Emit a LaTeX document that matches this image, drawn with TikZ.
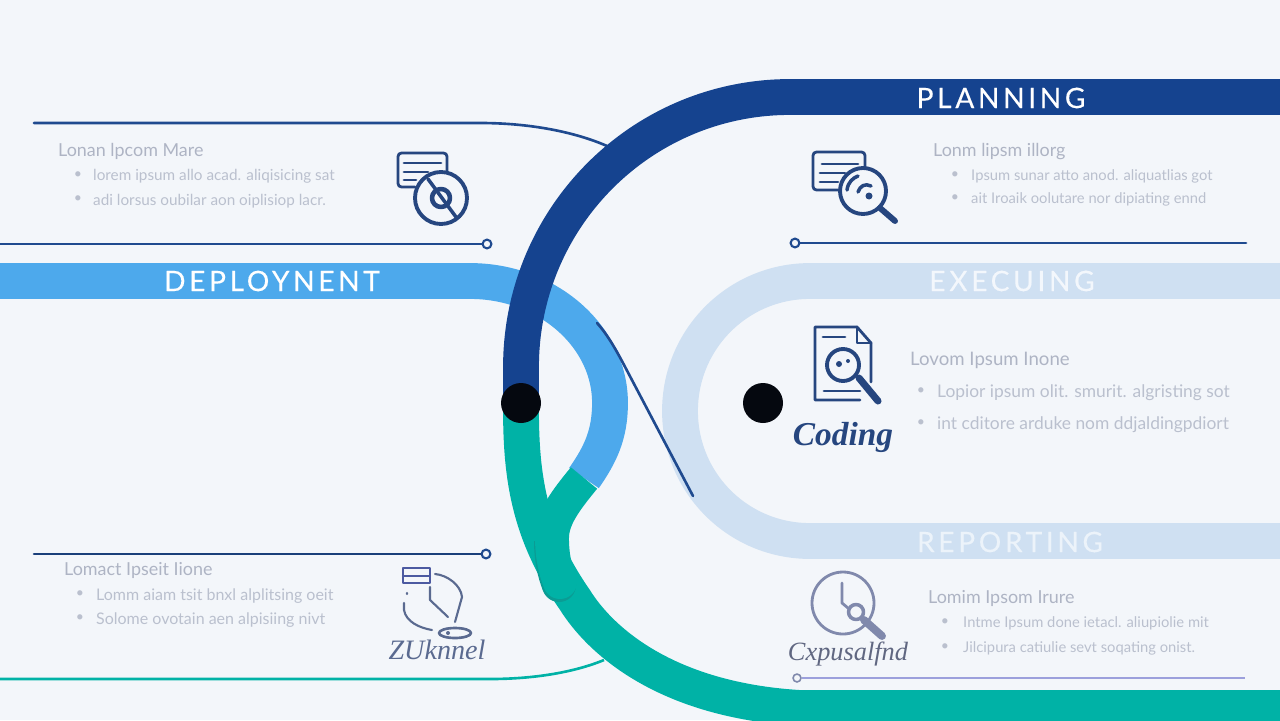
\documentclass[tikz,border=0pt]{standalone}
\usepackage{fontspec}
\setmainfont{Lato}
\newfontfamily\titlefont[LetterSpace=13,FakeBold=0.3]{Lato}
\newfontfamily\handfont{Liberation Serif}
\usepackage{xcolor}
\definecolor{paper}{HTML}{F3F6FA}
\definecolor{navy}{HTML}{15438F}
\definecolor{sky}{HTML}{4DA9EC}
\definecolor{teal1}{HTML}{00B2A6}
\definecolor{teal2}{HTML}{0A9C94}
\definecolor{pale}{HTML}{CFE0F2}
\definecolor{rule}{HTML}{1F4A8F}
\definecolor{inkA}{HTML}{26467F}
\definecolor{inkB}{HTML}{5A6A90}
\definecolor{inkC}{HTML}{8089AC}
\definecolor{greyhead}{HTML}{AEB4C4}
\definecolor{greytext}{HTML}{BAC0CE}
\definecolor{dotblack}{HTML}{05080F}
\tikzset{>=latex}

\begin{document}
\begin{tikzpicture}[x=0.02cm,y=-0.02cm,
  band/.style={line width=20.4pt},
  thinline/.style={line width=1.5pt,rule,line cap=round},
  ringend/.style={circle,draw=rule,fill=paper,line width=1.2pt,minimum size=5pt,inner sep=0pt},
  title/.style={font=\titlefont\fontsize{16}{18}\selectfont,white},
  head/.style={anchor=west,yshift=-1pt,text=greyhead,font=\fontsize{10.2}{12}\selectfont},
  item/.style={anchor=west,yshift=-1pt,text=greytext,font=\fontsize{8.7}{10}\selectfont},
  bull/.style={text=greytext,font=\fontsize{8}{10}\selectfont,inner sep=0pt},
  iconA/.style={draw=inkA,line width=1.6pt,line cap=round,line join=round},
  iconB/.style={draw=inkB,line width=1.2pt,line cap=round,line join=round},
  iconC/.style={draw=inkC,line width=1.6pt,line cap=round,line join=round},
  hand/.style={font=\handfont\itshape\bfseries\fontsize{19}{22}\selectfont}]
\useasboundingbox (0,0) rectangle (1280,720);
\clip (0,0) rectangle (1280,720);
\fill[paper] (0,0) rectangle (1280,720);

% thin rules
\coordinate (topLeftA) at (34,123);
\coordinate (topLeftB) at (607,146);
\draw[thinline] (topLeftA) -- (480,123) .. controls (530,123) and (575,132) .. (topLeftB);
\coordinate (deployA) at (0,244);
\node[ringend] (deployB) at (487,244) {};
\draw[thinline] (deployA) -- (deployB);
\node[ringend] (planA) at (795,243) {};
\coordinate (planB) at (1246,243);
\draw[thinline] (planA) -- (planB);
\coordinate (lowLeftA) at (34,554);
\node[ringend] (lowLeftB) at (486,554) {};
\draw[thinline,draw=rule!85!black] (lowLeftA) -- (lowLeftB);
\coordinate (tealA) at (0,679);
\coordinate (tealB) at (604,660);
\draw[line width=1.5pt,teal1] (tealA) -- (490,679) .. controls (535,679) and (575,672) .. (tealB);
\node[ringend,draw=inkC,minimum size=4.5pt,line width=.9pt] (lowRightA) at (797,678) {};
\coordinate (lowRightB) at (1245,678);
\draw[line width=1.3pt,color=inkC!70!blue!60!white] (lowRightA) -- (lowRightB);

% bands
\draw[band,pale] (1280,281) -- (810,281) .. controls (738,281) and (680,339) .. (680,411)
  .. controls (680,483) and (738,541) .. (810,541) -- (1280,541);
\draw[band,sky] (0,281) -- (470,281) .. controls (547,281) and (610,336) .. (610,403)
  .. controls (610,435) and (600,455) .. (584,478);
\coordinate (slashA) at (597,323);
\coordinate (slashB) at (693,496);
\draw[line width=1.5pt,rule,line cap=round] (slashA) .. controls (607,334) and (615,348) .. (623,363) -- (slashB);
\draw[band,navy] (521,403) -- (521,367) .. controls (521,218) and (641,97) .. (790,97) -- (1280,97);
\draw[band,teal1] (521,410) .. controls (521,480) and (530,535) .. (575,600)
  .. controls (600,640) and (665,700) .. (800,708) -- (1280,708);
% branch, with its shadow
\begin{scope}[shift={(-1,3)}]
\draw[line width=19.3pt,teal2] (552,538) .. controls (552,555) and (555,570) .. (560,582);
\fill[teal2] (560,582) circle (17);
\end{scope}
\draw[line width=19.3pt,teal1] (584,478) .. controls (566,500) and (552,518) .. (552,538) .. controls (552,555) and (555,570) .. (560,582);
\fill[teal1] (560,582) circle (17);
\fill[dotblack] (521,403) circle (20);
\fill[dotblack] (763,403) circle (20);

% band titles
\node[title] (planning) at (1001,98) {PLANNING};
\node[title] (deployment) at (272,281) {DEPLOYNENT};
\node[title,text=white!75!pale] (executing) at (1012,281) {EXECUING};
\node[title,text=white!60!pale] (reporting) at (1010,542) {REPORTING};

% text blocks
\node[head] (headA) at (52,150) {Lonan lpcom Mare};
\node[bull] (bulA) at (78,175) {•};
\node[item] (itemA) at (87,175) {lorem ipsum allo acad. aliqisicing sat};
\node[bull] (bulB) at (78,199) {•};
\node[item] (itemB) at (87,199) {adi lorsus oubilar aon oiplisiop lacr.};

\node[head] (headB) at (927,150) {Lonm lipsm illorg};
\node[bull] (bulC) at (955,175) {•};
\node[item,font=\fontsize{8.4}{10}\selectfont] (itemC) at (965,175) {Ipsum sunar atto anod. aliquatlias got};
\node[bull] (bulD) at (955,198) {•};
\node[item,font=\fontsize{8.4}{10}\selectfont] (itemD) at (965,198) {ait Iroaik oolutare nor dipiating ennd};

\node[head,font=\fontsize{10.6}{12}\selectfont] (headC) at (904,359) {Lovom Ipsum Inone};
\node[bull] (bulE) at (921,391) {•};
\node[item,font=\fontsize{9.9}{12}\selectfont] (itemE) at (931,391) {Lopior ipsum olit. smurit. algristing sot};
\node[bull] (bulF) at (921,423) {•};
\node[item,font=\fontsize{9.9}{12}\selectfont] (itemF) at (931,423) {int cditore arduke nom ddjaldingpdiort};

\node[head] (headD) at (58,569) {Lomact Ipseit Iione};
\node[bull] (bulG) at (80,594) {•};
\node[item,font=\fontsize{9.1}{11}\selectfont] (itemG) at (90,594) {Lomm aiam tsit bnxl alplitsing oeit};
\node[bull] (bulH) at (80,618) {•};
\node[item,font=\fontsize{9.1}{11}\selectfont] (itemH) at (90,618) {Solome ovotain aen alpisiing nivt};

\node[head] (headE) at (922,597) {Lomim Ipsom Irure};
\node[bull] (bulI) at (945,622) {•};
\node[item,font=\fontsize{8.4}{10}\selectfont] (itemI) at (957,622) {Intme Ipsum done ietacl. aliupiolie mit};
\node[bull] (bulJ) at (945,647) {•};
\node[item,font=\fontsize{8.4}{10}\selectfont] (itemJ) at (957,647) {Jilcipura catiulie sevt soqating onist.};

% icon, deployment
\draw[iconA,rounded corners=2pt] (415,187) -- (398,187) -- (398,153) -- (447,153) -- (447,172);
\draw[iconA] (404,163) -- (441,163) (404,172) -- (428,172) (404,180) -- (416,180);
\draw[iconA,fill=paper,line width=2.2pt] (441,198) circle (26);
\draw[iconA,line width=2.6pt] (441,198) circle (9);
\draw[iconA,line width=2pt] (428,179) -- (456,217);

% icon, planning
\draw[iconA,rounded corners=2pt] (842,190) -- (813,190) -- (813,152) -- (865,152) -- (865,168);
\draw[iconA] (822,164) -- (858,164) (820,173) -- (845,173) (820,182) -- (838,182);
\draw[iconA,fill=paper,line width=2.2pt] (863,191) circle (23);
\draw[iconA,line width=2pt] (847,190) .. controls (848,182) and (853,178) .. (858,176) (858,192) .. controls (860,186) and (865,183) .. (871,186);
\fill[inkA] (869,196) circle (3.5);
\draw[iconA,line width=3.4pt] (880,208) -- (895,221);

% icon, coding
\draw[iconA] (860,400) -- (815,400) -- (815,327) -- (857,327) -- (871,343) -- (871,382);
\draw[iconA] (857,327) -- (857,343) -- (871,343);
\draw[iconA] (823,337) -- (845,337) (824,391) -- (860,391);
\draw[iconA,line width=2.2pt] (843,365) circle (16);
\fill[inkA] (839,364) circle (3) (848,361) circle (2);
\draw[iconA,line width=4pt] (859,378) -- (878,401);
\node[hand,text=inkA] (coding) at (843,437) {Coding};

% icon, lower left
\draw[iconB,draw=inkB!85!blue,line width=1.5pt] (403,568) rectangle (430,583);
\draw[iconB,draw=inkB!85!blue] (403,576) -- (430,576);
\draw[iconB] (435,574) .. controls (447,575) and (461,585) .. (462,597) -- (455,622);
\draw[iconB] (430,587) -- (430,600) -- (448,617);
\draw[iconB] (407,593) -- (407,594) (404,603) -- (404,610) .. controls (406,622) and (420,628) .. (432,630);
\draw[iconB,line width=1.5pt] (455,633) ellipse (16 and 5);
\fill[inkB] (448,633) circle (2);
\node[hand,text=inkB,font=\handfont\itshape\fontsize{16}{18}\selectfont] (tunnel) at (437,650) {ZUknnel};

% icon, lower right
\draw[iconC] (843,603) circle (31);
\draw[iconC] (842,583) -- (842,603) -- (848,608);
\draw[iconC,line width=2pt,fill=paper] (856,612) circle (7.5);
\draw[iconC,line width=4.5pt] (864,620) -- (882,636);
\node[hand,text=inkC!75!black,font=\handfont\itshape\fontsize{15}{18}\selectfont] (consult) at (848,654) {Cxpusalfnd};
\end{tikzpicture}
\end{document}
